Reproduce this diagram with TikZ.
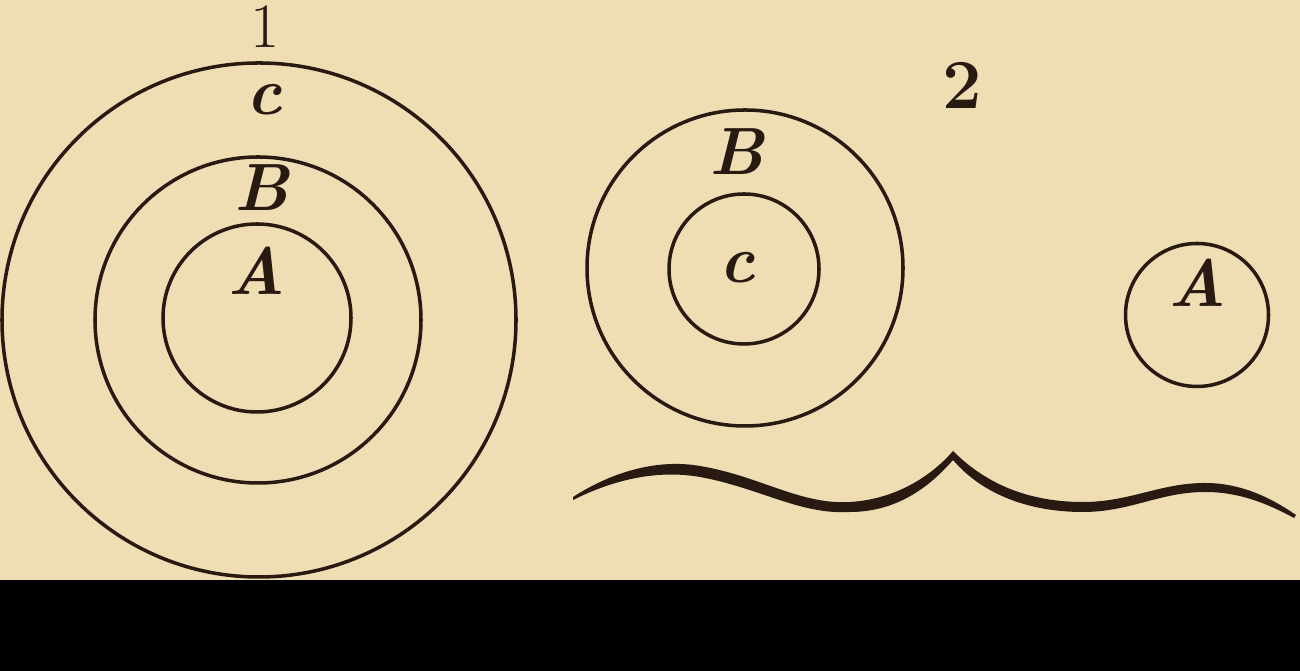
\documentclass[tikz,border=0pt]{standalone}
\usepackage{tikz}
\usetikzlibrary{positioning}

\definecolor{paper}{RGB}{239,222,180}
\definecolor{ink}{RGB}{40,26,16}

\tikzset{
  ring/.style={draw=ink, line width=1pt},
  letter/.style={text=ink, inner sep=0pt, font=\fontsize{19}{19}\selectfont\bfseries\itshape},
  numeral/.style={text=ink, inner sep=0pt, font=\fontsize{18}{18}\selectfont}
}

\begin{document}
\begin{tikzpicture}[x=0.01cm,y=-0.01cm]

\useasboundingbox (0,0) rectangle (1300,671);
\fill[paper] (0,0) rectangle (1300,580);
\fill[black] (0,580) rectangle (1300,671);

% figure 1
\draw[ring] (259,320) circle (257);
\draw[ring] (258,320) circle (163);
\draw[ring] (257,318) circle (94);

\node[numeral] (one) at (265,27) {1};
\node[letter] (cOne) at (264,100) {c};
\node[letter] (bOne) at (262,188) {B};
\node[letter] (aOne) at (256,271) {A};

% figure 2
\draw[ring] (745,268) circle (158);
\draw[ring] (744,269) circle (75);
\draw[ring] (1197,315) circle (71.5);

\node[numeral,font=\fontsize{20}{20}\selectfont\bfseries] (two) at (962,85) {2};
\node[letter] (bTwo) at (737,152) {B};
\node[letter] (cTwo) at (737,268) {c};
\node[letter] (aTwo) at (1197,283) {A};

% brace under figure 2
\fill[ink] (573,497) .. controls (615,470) and (660,459) .. (700,466)
  .. controls (760,476) and (800,505) .. (850,502)
  .. controls (900,499) and (935,472) .. (953,451)
  .. controls (987,485) and (1030,502) .. (1083,502)
  .. controls (1130,502) and (1160,483) .. (1205,483)
  .. controls (1240,483) and (1270,497) .. (1296,515)
  -- (1294,518)
  .. controls (1268,504) and (1240,492) .. (1205,492)
  .. controls (1160,492) and (1130,512) .. (1083,512)
  .. controls (1030,512) and (983,495) .. (953,460)
  .. controls (933,483) and (900,512) .. (850,512)
  .. controls (800,515) and (760,488) .. (700,477)
  .. controls (660,470) and (617,478) .. (573,500) -- cycle;

\end{tikzpicture}
\end{document}
